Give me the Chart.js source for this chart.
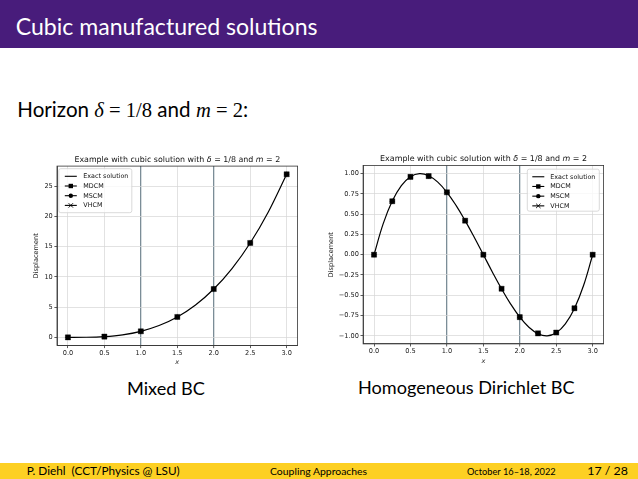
<!DOCTYPE html>
<html>
<head>
<meta charset="utf-8">
<script src="https://cdn.jsdelivr.net/npm/chart.js@4.4.0/dist/chart.umd.min.js"></script>
<style>
  html, body { margin:0; padding:0; width:638px; height:479px; overflow:hidden; background:#fff; }
  #header { position:absolute; left:0; top:0; width:638px; height:48px; background:#481c7b; }
  #footer { position:absolute; left:0; top:463px; width:638px; height:16px; background:#fdd023; }
  .t { position:absolute; white-space:nowrap; line-height:normal; margin:0; padding:0; }
  .sans { font-family: Lato, "DejaVu Sans", sans-serif; }
  .math { font-family: "Liberation Serif", "DejaVu Serif", serif; }
  .mpl { font-family: "DejaVu Sans", sans-serif; color:#111; }
  canvas { position:absolute; }
</style>
</head>
<body>
<div id="header"></div>
<div id="footer"></div>

<div id="slideTitle" class="t sans" style="color:#fff;font-size:24px;">Cubic manufactured solutions</div>
<div id="horizon" class="t sans" style="color:#000;font-size:16px;">Horizon <span class="math"><i>δ</i> = 1/8</span> and <span class="math"><i>m</i> = 2</span>:</div>

<canvas id="mixedChart" width="285" height="215" style="left:20px;top:160px;"></canvas>
<canvas id="dirChart" width="290" height="215" style="left:320px;top:160px;"></canvas>

<div id="title1" class="t mpl" style="font-size:7.8px;">Example with cubic solution with <i>δ</i> = 1/8 and <i>m</i> = 2</div>
<div id="title2" class="t mpl" style="font-size:7.8px;">Example with cubic solution with <i>δ</i> = 1/8 and <i>m</i> = 2</div>

<div id="cap1" class="t sans" style="color:#000;font-size:19px;">Mixed BC</div>
<div id="cap2" class="t sans" style="color:#000;font-size:19px;">Homogeneous Dirichlet BC</div>

<div id="foot1" class="t sans" style="color:#000;font-size:11px;">P. Diehl&nbsp; (CCT/Physics @ LSU)</div>
<div id="foot2" class="t sans" style="color:#000;font-size:11px;">Coupling Approaches</div>
<div id="foot3" class="t sans" style="color:#000;font-size:11px;">October 16–18, 2022</div>
<div id="foot4" class="t sans" style="color:#000;font-size:11px;">17 / 28</div>

<script>
// ---------------- data ----------------
const seriesNames = ['Exact solution', 'MDCM', 'MSCM', 'VHCM'];
const couplingLines = [1, 2];

const xTicks = [0, 0.5, 1, 1.5, 2, 2.5, 3];
const xTickLabels = ['0.0', '0.5', '1.0', '1.5', '2.0', '2.5', '3.0'];

// Mixed BC (left)
const mixedYTicks = [0, 5, 10, 15, 20, 25];
const mixedYTickLabels = ['0', '5', '10', '15', '20', '25'];
const mixedExactX = [0, 0.25, 0.5, 0.75, 1, 1.25, 1.5, 1.75, 2, 2.25, 2.5, 2.75, 3];
const mixedExactY = [0, 0.016, 0.125, 0.42, 1, 1.95, 3.375, 5.36, 8, 11.39, 15.625, 20.8, 27];
const mixedNodeX = [0, 0.5, 1, 1.5, 2, 2.5, 3];
const mixedMDCM = [0, 0.125, 1, 3.375, 8, 15.625, 27];
const mixedMSCM = [0, 0.125, 1, 3.375, 8, 15.625, 27];
const mixedVHCM = [0, 0.125, 1, 3.375, 8, 15.625, 27];

// Homogeneous Dirichlet BC (right)
const dirYTicks = [-1, -0.75, -0.5, -0.25, 0, 0.25, 0.5, 0.75, 1];
const dirYTickLabels = ['\u22121.00', '\u22120.75', '\u22120.50', '\u22120.25', '0.00', '0.25', '0.50', '0.75', '1.00'];
const dirExactX = [0, 0.125, 0.25, 0.375, 0.5, 0.625, 0.75, 0.875, 1, 1.125, 1.25, 1.375, 1.5,
                   1.625, 1.75, 1.875, 2, 2.125, 2.25, 2.375, 2.5, 2.625, 2.75, 2.875, 3];
const dirExactY = [0, 0.38, 0.662, 0.852, 0.962, 1.0, 0.974, 0.895, 0.77, 0.609, 0.421, 0.215, 0,
                   -0.215, -0.421, -0.609, -0.77, -0.895, -0.974, -1.0, -0.962, -0.852, -0.662, -0.38, 0];
const dirNodeX = [0, 0.25, 0.5, 0.75, 1, 1.25, 1.5, 1.75, 2, 2.25, 2.5, 2.75, 3];
const dirMDCM = [0, 0.66, 0.96, 0.97, 0.77, 0.42, 0, -0.42, -0.77, -0.97, -0.96, -0.66, 0];
const dirMSCM = [0, 0.66, 0.96, 0.97, 0.77, 0.42, 0, -0.42, -0.77, -0.97, -0.96, -0.66, 0];
const dirVHCM = [0, 0.66, 0.96, 0.97, 0.77, 0.42, 0, -0.42, -0.77, -0.97, -0.96, -0.66, 0];

// ---------------- text placement ----------------
function place(id, o) {
  const el = document.getElementById(id);
  let w = el.getBoundingClientRect().width;
  const fs = parseFloat(getComputedStyle(el).fontSize);
  el.style.fontSize = (fs * o.width / w) + 'px';
  w = el.getBoundingClientRect().width;
  el.style.left = ((o.center !== undefined) ? o.center - w / 2 : o.left) + 'px';
  const m = document.createElement('span');
  m.style.cssText = 'display:inline-block;width:0;height:0;vertical-align:baseline;';
  el.appendChild(m);
  el.style.top = '0px';
  const base = m.offsetTop;
  el.style.top = (o.baseline - base) + 'px';
}
place('slideTitle', {left: 15.7, width: 302, baseline: 35});
place('horizon', {left: 17.3, width: 231, baseline: 117});
place('title1', {center: 177.3, width: 206, baseline: 162.4});
place('title2', {center: 483.6, width: 207, baseline: 160.6});
place('cap1', {center: 166, width: 78, baseline: 394.8});
place('cap2', {center: 466.3, width: 216.7, baseline: 394.3});
place('foot1', {left: 26.7, width: 153.3, baseline: 475});
place('foot2', {left: 270, width: 97.3, baseline: 475});
place('foot3', {left: 467, width: 88.7, baseline: 475});
place('foot4', {left: 587.3, width: 40.7, baseline: 475});

// ---------------- plugins ----------------
const FONT = 'DejaVu Sans';
const frame = {
  id: 'frame',
  afterDatasetsDraw(chart) {
    const a = chart.chartArea, ctx = chart.ctx;
    ctx.save();
    ctx.strokeStyle = '#333';
    ctx.lineWidth = 0.8;
    ctx.strokeRect(a.left, a.top, a.right - a.left, a.bottom - a.top);
    ctx.restore();
  }
};

function drawMarker(ctx, style, x, y, size) {
  const h = size / 2;
  ctx.fillStyle = '#000';
  ctx.strokeStyle = '#000';
  if (style === 'rect') {
    ctx.fillRect(x - h, y - h, size, size);
  } else if (style === 'circle') {
    ctx.beginPath(); ctx.arc(x, y, h, 0, Math.PI * 2); ctx.fill();
  } else if (style === 'crossRot') {
    ctx.lineWidth = 0.9;
    ctx.beginPath();
    ctx.moveTo(x - h, y - h); ctx.lineTo(x + h, y + h);
    ctx.moveTo(x - h, y + h); ctx.lineTo(x + h, y - h);
    ctx.stroke();
  }
}

const boxLegend = {
  id: 'boxLegend',
  afterDraw(chart, args, o) {
    const ctx = chart.ctx, a = chart.chartArea;
    const x = o.side === 'left' ? a.left + o.inset : a.right - o.inset - o.width;
    const y = a.top + o.insetTop;
    ctx.save();
    ctx.beginPath();
    const r = 2;
    ctx.moveTo(x + r, y);
    ctx.arcTo(x + o.width, y, x + o.width, y + o.height, r);
    ctx.arcTo(x + o.width, y + o.height, x, y + o.height, r);
    ctx.arcTo(x, y + o.height, x, y, r);
    ctx.arcTo(x, y, x + o.width, y, r);
    ctx.closePath();
    ctx.fillStyle = 'rgba(255,255,255,0.8)';
    ctx.fill();
    ctx.strokeStyle = '#d0d0d0';
    ctx.lineWidth = 0.8;
    ctx.stroke();
    chart.data.datasets.forEach((ds, i) => {
      const cy = y + o.firstRow + i * o.rowGap;
      ctx.strokeStyle = '#000';
      ctx.lineWidth = 1.1;
      ctx.beginPath();
      ctx.moveTo(x + o.handle0, cy);
      ctx.lineTo(x + o.handle1, cy);
      ctx.stroke();
      if (ds.legendMarker) drawMarker(ctx, ds.legendMarker, x + (o.handle0 + o.handle1) / 2, cy, 4.4);
      ctx.fillStyle = '#111';
      ctx.font = o.fontSize + 'px "' + FONT + '"';
      ctx.textBaseline = 'middle';
      ctx.textAlign = 'left';
      ctx.fillText(ds.label, x + o.textX, cy + 0.3);
    });
    ctx.restore();
  }
};

// ---------------- chart builder ----------------
function xy(xs, ys) { return xs.map((x, i) => ({x: x, y: ys[i]})); }

function build(id, cfg) {
  const isCoupling = (c) => c.tick && couplingLines.includes(c.tick.value);
  const datasets = [
    { label: seriesNames[0], data: xy(cfg.exactX, cfg.exactY), showLine: true, borderColor: '#000',
      borderWidth: 1.2, pointRadius: 0, tension: 0.4, cubicInterpolationMode: cfg.interp, order: 4 },
    { label: seriesNames[1], data: xy(cfg.nodeX, cfg.mdcm), showLine: false, pointStyle: 'rect',
      pointRadius: 3.6, pointBackgroundColor: '#000', pointBorderColor: '#000', pointBorderWidth: 0.4,
      legendMarker: 'rect', order: 1 },
    { label: seriesNames[2], data: xy(cfg.nodeX, cfg.mscm), showLine: false, pointStyle: 'circle',
      pointRadius: 2.4, pointBackgroundColor: '#000', pointBorderColor: '#000', pointBorderWidth: 0,
      legendMarker: 'circle', order: 2 },
    { label: seriesNames[3], data: xy(cfg.nodeX, cfg.vhcm), showLine: false, pointStyle: 'crossRot',
      pointRadius: 3.0, pointBorderColor: '#000', pointBorderWidth: 0.8,
      legendMarker: 'crossRot', order: 3 }
  ];
  return new Chart(document.getElementById(id), {
    type: 'scatter',
    data: { datasets: datasets },
    plugins: [frame, boxLegend],
    options: {
      responsive: false,
      animation: false,
      devicePixelRatio: 1,
      events: [],
      layout: { padding: { top: cfg.padTop, right: cfg.padRight, left: 0, bottom: 0 } },
      plugins: {
        legend: { display: false },
        tooltip: { enabled: false },
        title: { display: false },
        boxLegend: cfg.legend
      },
      scales: {
        x: {
          type: 'linear', min: cfg.xMin, max: cfg.xMax,
          afterBuildTicks: (s) => { s.ticks = xTicks.map(v => ({value: v})); },
          afterFit: (s) => { s.height = cfg.xAxisH; },
          ticks: { callback: (v, i) => xTickLabels[i], font: {family: FONT, size: 6.6}, color: '#1a1a1a',
                   padding: cfg.xTickPad, maxRotation: 0, autoSkip: false },
          grid: { color: (c) => isCoupling(c) ? '#7b8d97' : '#d6d6d6',
                  lineWidth: (c) => isCoupling(c) ? 1.3 : 0.7,
                  tickColor: '#333', tickLength: 2.6, tickWidth: 0.8 },
          border: { color: '#333', width: 0.8 },
          title: { display: true, text: 'x', color: '#1a1a1a',
                   font: {family: FONT, size: 6.6, style: 'italic'},
                   padding: {top: 0, bottom: cfg.xTitlePad} }
        },
        y: {
          type: 'linear', min: cfg.yMin, max: cfg.yMax,
          afterBuildTicks: (s) => { s.ticks = cfg.yTicks.map(v => ({value: v})); },
          afterFit: (s) => { s.width = cfg.yAxisW; },
          ticks: { callback: (v, i) => cfg.yTickLabels[i], font: {family: FONT, size: 6.6}, color: '#1a1a1a',
                   padding: 1.6, autoSkip: false },
          grid: { color: '#d6d6d6', lineWidth: 0.7, tickColor: '#333', tickLength: 2.6, tickWidth: 0.8 },
          border: { color: '#333', width: 0.8 },
          title: { display: true, text: 'Displacement', color: '#1a1a1a',
                   font: {family: FONT, size: 6.6},
                   padding: {top: cfg.yTitlePad, bottom: 0} }
        }
      }
    }
  });
}

build('mixedChart', {
  exactX: mixedExactX, exactY: mixedExactY, nodeX: mixedNodeX,
  mdcm: mixedMDCM, mscm: mixedMSCM, vhcm: mixedVHCM, interp: 'monotone',
  xMin: -0.15, xMax: 3.15, yMin: -1.35, yMax: 28.35,
  yTicks: mixedYTicks, yTickLabels: mixedYTickLabels,
  padTop: 6.1, padRight: 7.4, yAxisW: 37, xAxisH: 29.5,
  xTickPad: 1.6, xTitlePad: 8.6, yTitlePad: 12.6,
  legend: { side: 'left', inset: 1.8, insetTop: 2.6, width: 73, height: 44,
            firstRow: 7.6, rowGap: 9.7, handle0: 6, handle1: 18, textX: 24.5, fontSize: 6.4 }
});

build('dirChart', {
  exactX: dirExactX, exactY: dirExactY, nodeX: dirNodeX,
  mdcm: dirMDCM, mscm: dirMSCM, vhcm: dirVHCM, interp: 'default',
  xMin: -0.15, xMax: 3.15, yMin: -1.1, yMax: 1.1,
  yTicks: dirYTicks, yTickLabels: dirYTickLabels,
  padTop: 4.1, padRight: 6.4, yAxisW: 43.1, xAxisH: 31.1,
  xTickPad: 1.0, xTitlePad: 10, yTitlePad: 7.8,
  legend: { side: 'right', inset: 4.3, insetTop: 3.6, width: 72, height: 42,
            firstRow: 7.6, rowGap: 9.7, handle0: 5, handle1: 17, textX: 23, fontSize: 6.4 }
});
</script>
</body>
</html>
